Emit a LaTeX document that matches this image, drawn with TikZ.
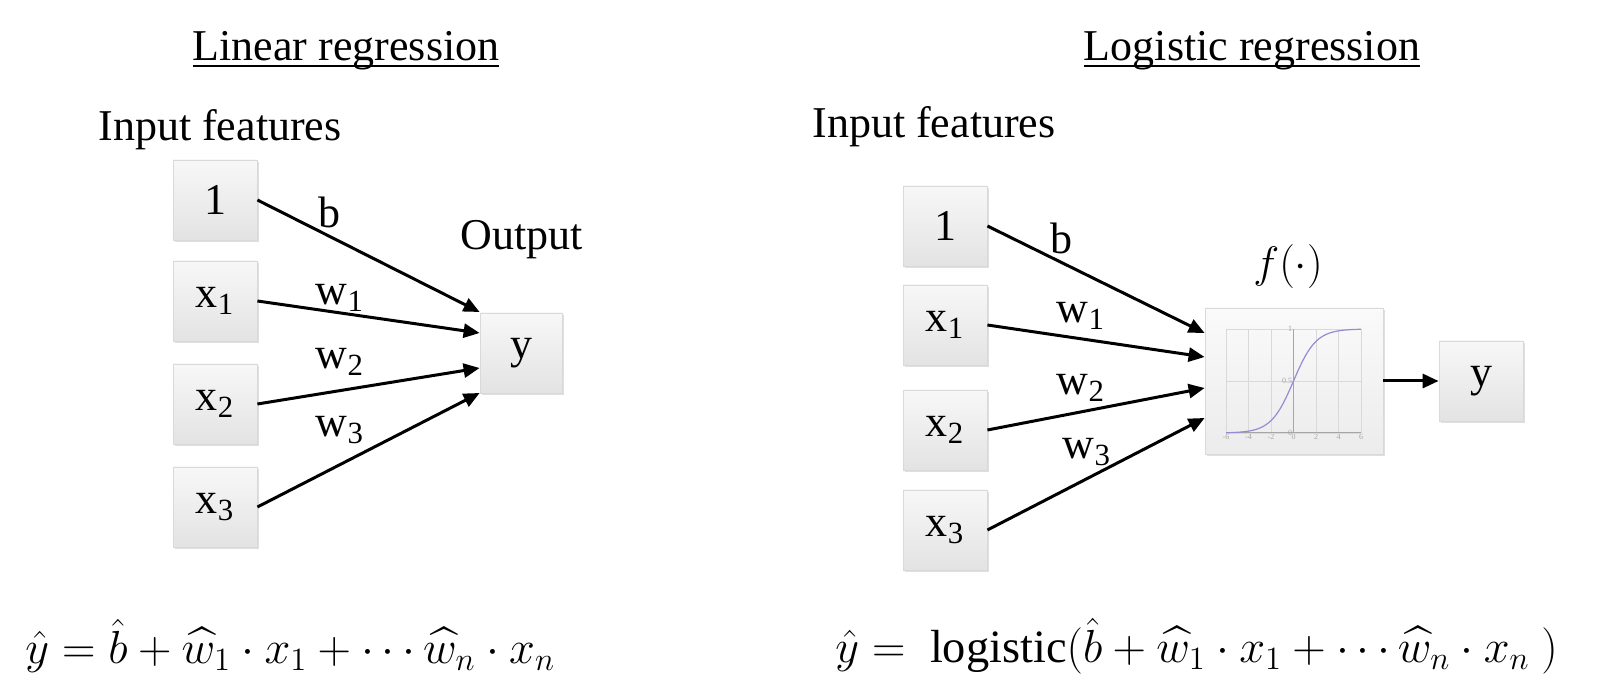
\RequirePackage{fix-cm}
\documentclass[tikz,border=0pt]{standalone}
\usepackage{amsmath}
\usepackage{fontspec}
\setmainfont{Liberation Serif}
\usetikzlibrary{arrows.meta,shadows}
\definecolor{sigcol}{RGB}{150,140,210}
\begin{document}
\begin{tikzpicture}[x=0.5pt,y=-0.5pt,
  box/.style={draw=gray!30, line width=0.4pt, top color=gray!6, bottom color=gray!22,
    minimum width=42pt, minimum height=40pt, inner sep=0pt,
    drop shadow={opacity=0.25, shadow xshift=0.8pt, shadow yshift=-1.2pt},
    font=\fontsize{22}{24}\selectfont},
  conn/.style={line width=1.5pt, -{Triangle[length=8pt,width=7pt]}},
  lbl/.style={font=\fontsize{22}{24}\selectfont, inner sep=0pt},
  eq/.style={font=\fontsize{23.2}{26}\selectfont, inner sep=0pt, anchor=west},
  grid/.style={draw=gray!30, line width=0.3pt},
  tick/.style={font=\fontsize{4}{5}\selectfont, text=gray!70, inner sep=0.5pt},
]
\useasboundingbox[fill=white] (0,0) rectangle (1600,694);

% ---------- Linear regression ----------
\node[lbl] (t1) at (346,50) {\underline{\smash[b]{Linear regression}}};
\node[lbl] (in1) at (220,130) {Input features};
\node[box] (a0) at (215,200) {1};
\node[box] (a1) at (215,301) {x\textsubscript{1}};
\node[box] (a2) at (215,404) {x\textsubscript{2}};
\node[box] (a3) at (215,507) {x\textsubscript{3}};
\node[box, minimum width=41pt] (ya) at (521,353) {y};
\node[lbl] (outa) at (522,240) {Output};

\draw[conn] (a0.east) -- ([yshift=20.5pt]ya.west);
\draw[conn] (a1.east) -- ([yshift=10pt]ya.west);
\draw[conn] (a2.east) -- ([yshift=-7.5pt]ya.west);
\draw[conn] (a3.east) -- ([yshift=-20pt]ya.west);

\node[lbl] (lb) at (329,212) {b};
\node[lbl] (lw1) at (340,298) {w\textsubscript{1}};
\node[lbl] (lw2) at (340,362) {w\textsubscript{2}};
\node[lbl] (lw3) at (340,430) {w\textsubscript{3}};

\node[eq] (eqa) at (25,646) {$\hat{y} = \hat{b} + \widehat{w}_1\cdot x_1 + \cdots \widehat{w}_n \cdot x_n$};

% ---------- Logistic regression ----------
\node[lbl] (t2) at (1252,50) {\underline{\smash[b]{Logistic regression}}};
\node[lbl] (in2) at (934,127) {Input features};
\node[box] (b0) at (945,226) {1};
\node[box] (b1) at (945,325) {x\textsubscript{1}};
\node[box] (b2) at (945,430) {x\textsubscript{2}};
\node[box] (b3) at (945,530) {x\textsubscript{3}};
\node[box, minimum width=89pt, minimum height=73pt, top color=gray!4, bottom color=gray!15] (sg) at (1294,381) {};
\node[box] (yb) at (1481,381) {y};
\node[lbl] (fl) at (1288,267) {$f(\cdot)$};

% sigmoid plot
\foreach \t in {-6,-4,...,6}{
  \draw[grid] ({1226+(\t+6)*11.25},329) -- ({1226+(\t+6)*11.25},433);
  \node[tick, below] at ({1226+(\t+6)*11.25},433) {\t};
}
\foreach \v/\s in {0/0,0.5/0.5,1/1}{
  \draw[grid] (1226,{433-104*\v}) -- (1361,{433-104*\v});
  \node[tick, left] at (1293.5,{433-104*\v}) {\s};
}
\draw[gray!70, line width=0.5pt] (1293.5,329) -- (1293.5,433);
\draw[gray!70, line width=0.5pt] (1226,433) -- (1361,433);
\draw[sigcol, line width=0.6pt] plot[domain=-6:6, samples=80, smooth] ({1226+(\x+6)*11.25},{433-104/(1+exp(-\x))});

\draw[conn] (b0.east) -- ([yshift=24pt]sg.west);
\draw[conn] (b1.east) -- ([yshift=12pt]sg.west);
\draw[conn] (b2.east) -- ([yshift=-3.5pt]sg.west);
\draw[conn] (b3.east) -- ([yshift=-18.5pt]sg.west);
\draw[conn] (sg.east) -- (yb.west);

\node[lbl] (rb) at (1061,238) {b};
\node[lbl] (rw1) at (1081,316) {w\textsubscript{1}};
\node[lbl] (rw2) at (1081,388) {w\textsubscript{2}};
\node[lbl] (rw3) at (1087,452) {w\textsubscript{3}};

\node[eq] (eqb) at (835,646) {$\hat{y} = \ \text{logistic}(\hat{b} + \widehat{w}_1\cdot x_1 + \cdots \widehat{w}_n \cdot x_n\ )$};
\end{tikzpicture}
\end{document}
